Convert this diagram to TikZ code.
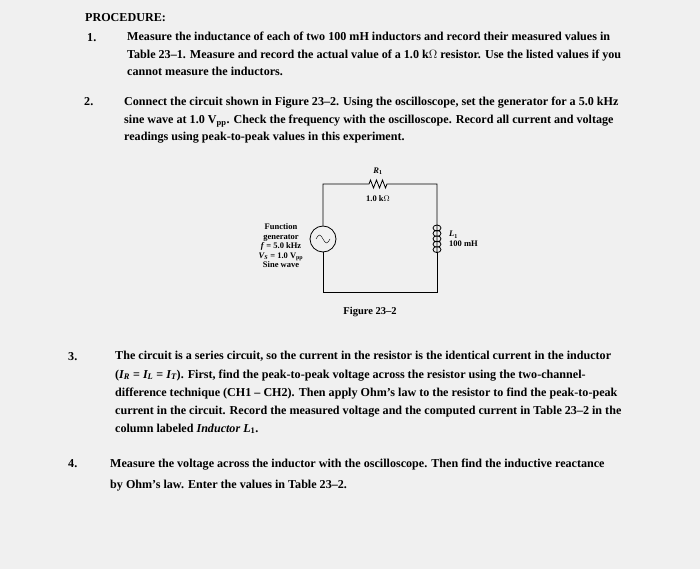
\documentclass[tikz,border=0pt]{standalone}
\usepackage{fontspec}
\setmainfont{Liberation Serif}
\begin{document}
\begin{tikzpicture}[x=1pt,y=-1pt,
  txt/.style={anchor=base west,inner sep=0pt,font=\fontsize{12.1}{14}\selectfont\bfseries},
  sm/.style={inner sep=0pt,font=\fontsize{8.5}{9.5}\selectfont\bfseries,align=center},
  wire/.style={line width=0.8pt}]
\fill[gray!12] (0,0) rectangle (700,569);
\useasboundingbox (0,0) rectangle (700,569);
\node[txt] (h) at (85,22) {PROCEDURE:};
\node[txt] (n1) at (87,42) {1.};
\node[txt] (p1a) at (127,41) {Measure the inductance of each of two 100 mH inductors and record their measured values in};
\node[txt] (p1b) at (127,59) {Table 23--1. Measure and record the actual value of a 1.0 k\(\Omega\) resistor. Use the listed values if you};
\node[txt] (p1c) at (127,76) {cannot measure the inductors.};
\node[txt] (n2) at (84,106) {2.};
\node[txt] (p2a) at (124,106) {Connect the circuit shown in Figure 23--2. Using the oscilloscope, set the generator for a 5.0 kHz};
\node[txt] (p2b) at (124,124) {sine wave at 1.0 V\textsubscript{pp}. Check the frequency with the oscilloscope. Record all current and voltage};
\node[txt] (p2c) at (124,141) {readings using peak-to-peak values in this experiment.};
% circuit
\coordinate (tl) at (323,184); \coordinate (tr) at (437,184);
\coordinate (bl) at (323,292); \coordinate (br) at (437,292);
\node[draw,circle,wire,minimum size=26pt,inner sep=0pt] (src) at (323,239) {};
\draw (316,239) sin (319.5,235) cos (323,239) sin (326.5,243) cos (330,239);
\draw[wire] (src.north) -- (tl) -- (369,184) -- (370.5,180) -- (373.5,188) -- (376.5,180) -- (379.5,188) -- (382.5,180) -- (385.5,188) -- (387,184) -- (tr) -- (437,225);
\draw[wire] (437,225) \foreach \i in {0,...,4}{ arc[start angle=90,end angle=-270,x radius=4,y radius=-3]  -- ++(0,5.4)} ;
\draw[wire] (437,252) -- (br) -- (bl) -- (src.south);
\node[sm] (r1) at (378,171) {\textit{R}\textsubscript{1}};
\node[sm] (rv) at (378,199) {1.0 k\(\Omega\)};
\node[sm,align=left,anchor=west] (l1) at (449,239) {\textit{L}\textsubscript{1}\\100 mH};
\node[sm] (fg) at (281,246) {Function\\generator\\\textit{f} = 5.0 kHz\\\textit{V\textsubscript{S}} = 1.0 V\textsubscript{pp}\\Sine wave};
\node[anchor=base,inner sep=0pt,font=\fontsize{10.5}{12}\selectfont\bfseries] (cap) at (370,314) {Figure 23--2};
\node[txt] (n3) at (68,360) {3.};
\node[txt] (p3a) at (115,359) {The circuit is a series circuit, so the current in the resistor is the identical current in the inductor};
\node[txt] (p3b) at (115,378) {(\textit{I\textsubscript{R}} = \textit{I\textsubscript{L}} = \textit{I\textsubscript{T}}). First, find the peak-to-peak voltage across the resistor using the two-channel-};
\node[txt] (p3c) at (115,396) {difference technique (CH1 -- CH2). Then apply Ohm's law to the resistor to find the peak-to-peak};
\node[txt] (p3d) at (115,414) {current in the circuit. Record the measured voltage and the computed current in Table 23--2 in the};
\node[txt] (p3e) at (115,432) {column labeled \textit{Inductor L}\textsubscript{1}.};
\node[txt] (n4) at (68,467) {4.};
\node[txt] (p4a) at (110,467) {Measure the voltage across the inductor with the oscilloscope. Then find the inductive reactance};
\node[txt] (p4b) at (110,488) {by Ohm's law. Enter the values in Table 23--2.};
\end{tikzpicture}
\end{document}
